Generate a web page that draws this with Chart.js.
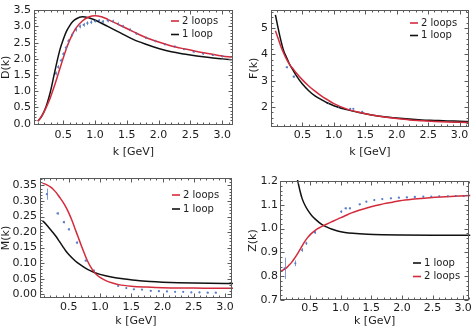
<!DOCTYPE html>
<html><head><meta charset="utf-8">
<script src="https://cdn.jsdelivr.net/npm/chart.js@4.4.1/dist/chart.umd.min.js"></script>
<style>
html,body{margin:0;padding:0;background:#fff;width:474px;height:329px;overflow:hidden;}
canvas{position:absolute;display:block;}
</style></head><body>
<canvas id="c1" width="237" height="165" style="left:0;top:0"></canvas>
<canvas id="c2" width="237" height="165" style="left:237px;top:0"></canvas>
<canvas id="c3" width="237" height="164" style="left:0;top:165px"></canvas>
<canvas id="c4" width="237" height="164" style="left:237px;top:165px"></canvas>
<script>
// ---------- tick labels ----------
const kTicks = [0.5, 1.0, 1.5, 2.0, 2.5, 3.0];
const dTicks = [0.0, 0.5, 1.0, 1.5, 2.0, 2.5, 3.0, 3.5];
const fTicks = [2, 3, 4, 5];
const mTicks = [0.00, 0.05, 0.10, 0.15, 0.20, 0.25, 0.30, 0.35];
const zTicks = [0.7, 0.8, 0.9, 1.0, 1.1, 1.2];
const legendNames = ["2 loops", "1 loop"];

// ---------- D(k) ----------
const dK2 = [0.1,0.15,0.2,0.25,0.3,0.35,0.4,0.45,0.5,0.55,0.6,0.65,0.7,0.8,0.9,1.0,1.1,1.2,1.4,1.6,1.8,2.0,2.2,2.4,2.6,2.8,3.0,3.15];
const d2Loops = [0.08,0.2,0.37,0.58,0.82,1.1,1.4,1.72,2.03,2.32,2.57,2.78,2.95,3.17,3.29,3.33,3.3,3.22,3.03,2.84,2.66,2.52,2.4,2.31,2.23,2.16,2.09,2.05];
const dK1 = [0.1,0.15,0.2,0.25,0.3,0.35,0.4,0.45,0.5,0.55,0.6,0.65,0.7,0.8,0.9,1.0,1.2,1.4,1.6,1.8,2.0,2.2,2.4,2.6,2.8,3.0,3.15];
const d1Loop = [0.08,0.2,0.38,0.65,1.0,1.45,1.9,2.3,2.6,2.85,3.02,3.15,3.23,3.3,3.27,3.2,3.0,2.8,2.6,2.45,2.32,2.22,2.15,2.09,2.04,2.0,1.97];
const dLatK = [0.38,0.42,0.46,0.5,0.54,0.58,0.64,0.7,0.76,0.82,0.88,0.94,1.0,1.06,1.12,1.2,1.28,1.36,1.44,1.55,1.65,1.8,1.95,2.1,2.25,2.4,2.55,2.7,2.85,3.0];
const dLat = [1.55,1.75,1.95,2.15,2.35,2.55,2.75,2.9,3.0,3.05,3.1,3.13,3.17,3.18,3.15,3.18,3.16,3.08,3.0,2.9,2.78,2.65,2.55,2.45,2.38,2.3,2.22,2.16,2.12,2.08];
const dLatErr = [0.06,0.06,0.06,0.06,0.06,0.06,0.06,0.06,0.06,0.06,0.06,0.06,0.05,0.05,0.05,0.05,0.05,0.05,0.05,0.04,0.04,0.04,0.04,0.03,0.03,0.03,0.03,0.03,0.03,0.03];

// ---------- F(k) ----------
const fK = [0.07,0.1,0.15,0.2,0.25,0.3,0.35,0.4,0.5,0.6,0.7,0.8,0.9,1.0,1.2,1.4,1.6,1.8,2.0,2.2,2.4,2.6,2.8,3.0,3.15];
const f2Loops = [4.9,4.7,4.35,4.05,3.8,3.6,3.45,3.3,3.03,2.8,2.6,2.42,2.27,2.13,1.93,1.8,1.7,1.62,1.56,1.51,1.48,1.45,1.43,1.42,1.41];
const f1Loop = [5.5,5.15,4.6,4.15,3.87,3.6,3.4,3.2,2.87,2.62,2.42,2.28,2.15,2.05,1.9,1.79,1.7,1.63,1.58,1.54,1.51,1.49,1.47,1.46,1.45];
const fLatK = [0.25,0.36,0.9,1.07,1.26,1.31,1.45];
const fLat = [3.51,3.15,2.15,2.0,1.93,1.93,1.82];
const fLatErr = [0.04,0.04,0.03,0.03,0.02,0.02,0.02];

// ---------- M(k) ----------
const mK2 = [0.08,0.1,0.15,0.2,0.25,0.3,0.35,0.4,0.45,0.5,0.55,0.6,0.65,0.7,0.75,0.8,0.85,0.9,0.95,1.0,1.1,1.2,1.3,1.5,1.75,2.0,2.5,3.0,3.15];
const m2Loops = [0.357,0.356,0.352,0.346,0.338,0.327,0.313,0.299,0.282,0.262,0.238,0.211,0.184,0.157,0.131,0.107,0.088,0.073,0.062,0.054,0.043,0.036,0.031,0.026,0.023,0.021,0.02,0.019,0.019];
const mK1 = [0.08,0.1,0.15,0.2,0.25,0.3,0.35,0.4,0.45,0.5,0.6,0.7,0.8,0.9,1.0,1.2,1.4,1.6,1.8,2.0,2.5,3.0,3.15];
const m1Loop = [0.236,0.233,0.222,0.21,0.198,0.185,0.17,0.155,0.14,0.128,0.108,0.093,0.08,0.071,0.064,0.055,0.049,0.044,0.041,0.039,0.036,0.035,0.035];
const mLatK = [0.15,0.32,0.42,0.5,0.63,0.77,0.9,1.29,1.42,1.54,1.67,1.81,1.94,2.07,2.2,2.33,2.46,2.59,2.72,2.85];
const mLat = [0.322,0.26,0.232,0.209,0.166,0.108,0.076,0.027,0.02,0.016,0.015,0.011,0.01,0.009,0.008,0.008,0.006,0.006,0.005,0.005];
const mLatErr = [0.018,0.004,0.004,0.004,0.004,0.003,0.003,0.002,0.002,0.002,0.002,0.002,0.002,0.002,0.002,0.002,0.002,0.002,0.002,0.002];

// ---------- Z(k) ----------
const zK2 = [0.03,0.1,0.16,0.2,0.25,0.3,0.35,0.4,0.46,0.52,0.59,0.67,0.75,0.85,0.95,1.05,1.18,1.3,1.44,1.6,1.71,1.85,1.97,2.2,2.5,2.8,3.04,3.15];
const z2Loops = [0.822,0.832,0.847,0.858,0.876,0.896,0.918,0.94,0.962,0.979,0.994,1.006,1.016,1.028,1.04,1.051,1.066,1.077,1.088,1.098,1.105,1.111,1.117,1.124,1.131,1.135,1.138,1.139];
const zK1 = [0.25,0.3,0.34,0.37,0.42,0.48,0.53,0.59,0.69,0.77,0.85,0.95,1.07,1.2,1.44,1.7,1.97,2.5,3.15];
const z1Loop = [1.26,1.2,1.155,1.127,1.097,1.071,1.054,1.039,1.018,1.007,0.998,0.99,0.984,0.98,0.976,0.974,0.973,0.972,0.972];
const zLatK = [0.085,0.26,0.37,0.44,0.58,1.01,1.08,1.15,1.31,1.42,1.55,1.68,1.82,1.95,2.08,2.21,2.35,2.48,2.61,2.75,2.88,3.01];
const zLat = [0.833,0.854,0.91,0.938,0.984,1.071,1.085,1.085,1.102,1.113,1.12,1.124,1.127,1.13,1.131,1.133,1.134,1.134,1.136,1.136,1.137,1.137];
const zLatErr = [0.045,0.012,0.008,0.007,0.007,0.005,0.004,0.004,0.003,0.003,0.003,0.003,0.003,0.003,0.003,0.003,0.003,0.003,0.003,0.003,0.003,0.003];

// ---------- styling ----------
const RED = '#d42b3c', BLACK = '#111111', BLUE = '#5a7dc6', FRAME = '#5a5a5a', TXT = '#1c1c1c';
const FONT = 'DejaVu Sans';
const FS = 11;
const pts = (xs, ys) => xs.map((x, i) => ({x, y: ys[i]}));

const framePlugin = {
  id: 'frame',
  afterDraw(chart, args, o) {
    const {ctx, chartArea: a, scales: {x, y}} = chart;
    ctx.save();
    ctx.strokeStyle = FRAME; ctx.lineWidth = 1;
    const L = Math.round(a.left) + 0.5, R = Math.round(a.right) - 0.5, T = Math.round(a.top) + 0.5, B = Math.round(a.bottom) - 0.5;
    ctx.strokeRect(L, T, R - L, B - T);
    const ticksFor = (scale, nsub, horiz) => {
      const vals = scale.ticks.map(t => t.value);
      const step = vals[1] - vals[0];
      const sub = step / nsub;
      let v = vals[0];
      while (v - sub >= scale.min - 1e-9) v -= sub;
      for (; v <= scale.max + 1e-9; v += sub) {
        const r = (v - vals[0]) / step;
        const major = Math.abs(r - Math.round(r)) < 1e-6;
        const len = major ? 4 : 2;
        const p = Math.round(scale.getPixelForValue(v)) + 0.5;
        ctx.beginPath();
        if (horiz) { ctx.moveTo(p, B); ctx.lineTo(p, B - len); ctx.moveTo(p, T); ctx.lineTo(p, T + len); }
        else { ctx.moveTo(L, p); ctx.lineTo(L + len, p); ctx.moveTo(R, p); ctx.lineTo(R - len, p); }
        ctx.stroke();
      }
    };
    ticksFor(x, o.xsub, true);
    ticksFor(y, o.ysub, false);
    ctx.restore();
  }
};

const errPlugin = {
  id: 'errbars',
  afterDatasetsDraw(chart) {
    const {ctx, scales: {x, y}} = chart;
    ctx.save();
    chart.data.datasets.forEach(ds => {
      if (!ds.errs) return;
      ctx.strokeStyle = 'rgba(90,125,198,0.75)'; ctx.lineWidth = 1;
      ds.data.forEach((p, i) => {
        const px = Math.round(x.getPixelForValue(p.x)) + 0.5;
        ctx.beginPath();
        ctx.moveTo(px, y.getPixelForValue(p.y - ds.errs[i]));
        ctx.lineTo(px, y.getPixelForValue(p.y + ds.errs[i]));
        ctx.stroke();
      });
    });
    ctx.restore();
  }
};

const legendPlugin = {
  id: 'inlegend',
  afterDraw(chart, args, o) {
    const {ctx} = chart;
    ctx.save();
    ctx.font = '10px "' + FONT + '"';
    ctx.textBaseline = 'middle';
    ctx.fillStyle = TXT;
    o.order.forEach((idx, j) => {
      const ds = chart.data.datasets[idx];
      const yy = o.y + j * o.dy;
      ctx.strokeStyle = ds.borderColor; ctx.lineWidth = 1.6;
      ctx.beginPath(); ctx.moveTo(o.x, yy); ctx.lineTo(o.x + 8, yy); ctx.stroke();
      ctx.fillText(ds.label, o.x + 11, yy);
    });
    ctx.restore();
  }
};

function curve(label, xs, ys, color) {
  return {label, data: pts(xs, ys), showLine: true, borderColor: color, backgroundColor: color,
    borderWidth: 1.5, pointRadius: 0, cubicInterpolationMode: 'monotone', clip: 1};
}
function lattice(xs, ys, errs) {
  return {label: '', data: pts(xs, ys), errs, showLine: false, pointRadius: 1.1, pointBorderWidth: 0,
    backgroundColor: BLUE, borderColor: BLUE};
}

function make(id, c) {
  return new Chart(document.getElementById(id), {
    type: 'scatter',
    data: {datasets: c.datasets},
    plugins: [errPlugin, framePlugin, legendPlugin],
    options: {
      responsive: false, animation: false, events: [],
      layout: {padding: c.pad},
      plugins: {legend: {display: false}, tooltip: {enabled: false},
        frame: {xsub: 5, ysub: c.ysub}, inlegend: c.legend},
      scales: {
        x: {type: 'linear', min: c.xmin, max: c.xmax,
          afterBuildTicks: s => { s.ticks = kTicks.map(v => ({value: v})); },
          afterFit: s => { s.height = c.xH; },
          grid: {display: false, drawTicks: false}, border: {display: false},
          ticks: {padding: c.xtp, color: TXT, font: {family: FONT, size: FS}, maxRotation: 0,
            callback: v => v.toFixed(1)},
          title: {display: true, text: 'k [GeV]', color: TXT, font: {family: FONT, size: FS}, padding: {top: 0, bottom: c.xtb}}},
        y: {type: 'linear', min: c.ymin, max: c.ymax,
          afterBuildTicks: s => { s.ticks = c.yticks.map(v => ({value: v})); },
          afterFit: s => { s.width = c.yW; },
          grid: {display: false, drawTicks: false}, border: {display: false},
          ticks: {padding: c.ytp, color: TXT, font: {family: FONT, size: FS},
            callback: v => v.toFixed(c.dec)},
          title: {display: true, text: c.ytitle, color: TXT, font: {family: FONT, size: FS}, padding: {top: c.ytt, bottom: 0}}}
      }
    }
  });
}

make('c1', {
  datasets: [curve(legendNames[0], dK2, d2Loops, RED), curve(legendNames[1], dK1, d1Loop, BLACK), lattice(dLatK, dLat, dLatErr)],
  pad: {top: 4, right: 4, left: 0, bottom: 0}, xH: 40, yW: 34, xtp: 4, xtb: 6, ytp: 3, ytt: 0,
  xmin: 0.04, xmax: 3.17, ymin: -0.04, ymax: 3.52, yticks: dTicks, dec: 1, ysub: 5, ytitle: 'D(k)',
  legend: {x: 171, y: 21, dy: 13.5, order: [0, 1]}
});
make('c2', {
  datasets: [curve(legendNames[0], fK, f2Loops, RED), curve(legendNames[1], fK, f1Loop, BLACK), lattice(fLatK, fLat, fLatErr)],
  pad: {top: 5, right: 5, left: 0, bottom: 0}, xH: 38, yW: 34, xtp: 2, xtb: 6, ytp: 3, ytt: 11,
  xmin: 0.0, xmax: 3.15, ymin: 1.24, ymax: 5.7, yticks: fTicks, dec: 0, ysub: 5, ytitle: 'F(k)',
  legend: {x: 173, y: 23, dy: 12.5, order: [0, 1]}
});
make('c3', {
  datasets: [curve(legendNames[0], mK2, m2Loops, RED), curve(legendNames[1], mK1, m1Loop, BLACK), lattice(mLatK, mLat, mLatErr)],
  pad: {top: 13, right: 4, left: 0, bottom: 0}, xH: 31, yW: 40, xtp: 3, xtb: 1, ytp: 3, ytt: 0,
  xmin: 0.04, xmax: 3.11, ymin: -0.012, ymax: 0.374, yticks: mTicks, dec: 2, ysub: 5, ytitle: 'M(k)',
  legend: {x: 172, y: 30, dy: 14, order: [0, 1]}
});
make('c4', {
  datasets: [curve(legendNames[0], zK2, z2Loops, RED), curve(legendNames[1], zK1, z1Loop, BLACK), lattice(zLatK, zLat, zLatErr)],
  pad: {top: 16, right: 1, left: 0, bottom: 0}, xH: 29, yW: 43, xtp: 2, xtb: 1, ytp: 2, ytt: 10,
  xmin: 0.01, xmax: 3.1, ymin: 0.7, ymax: 1.2, yticks: zTicks, dec: 1, ysub: 5, ytitle: 'Z(k)',
  legend: {x: 176, y: 98, dy: 13.5, order: [1, 0]}
});
</script>
</body></html>
